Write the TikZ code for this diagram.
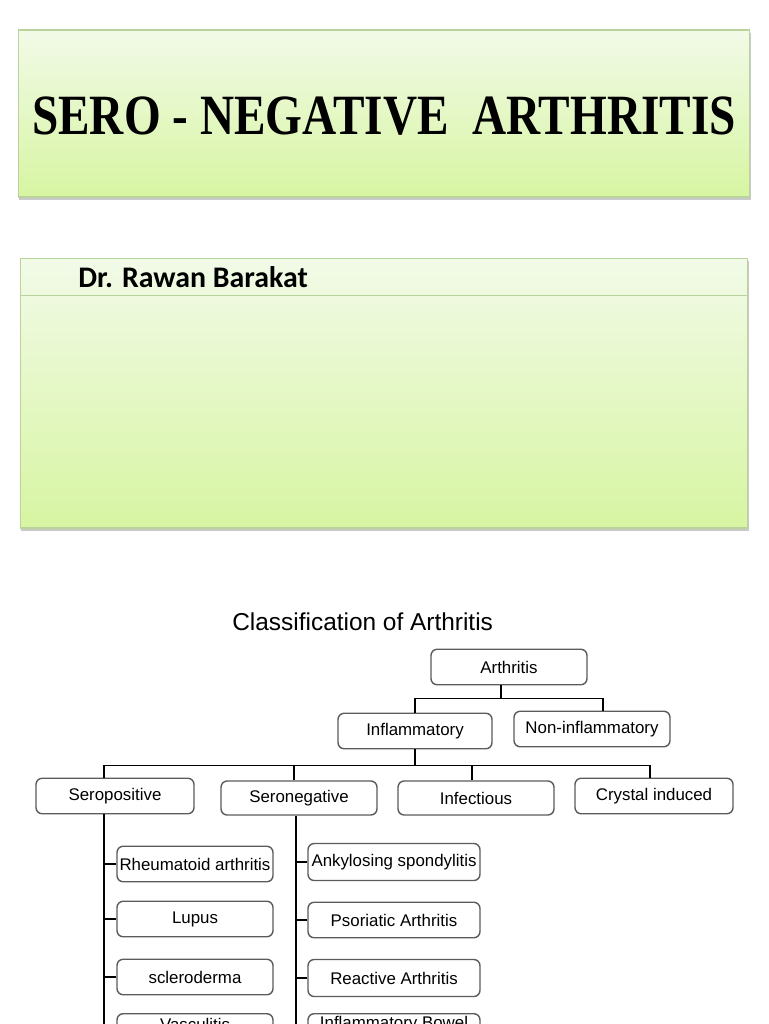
\documentclass[tikz,border=0pt]{standalone}
\usepackage{fontspec}
\setmainfont{Liberation Sans}
\newfontfamily\titlefont[FakeStretch=0.83]{Liberation Serif}
\newfontfamily\namefont{Carlito}
\usetikzlibrary{calc,shadows}

\definecolor{slidetop}{HTML}{F2FAE8}
\definecolor{slidebot}{HTML}{D7F5A2}
\definecolor{slideline}{HTML}{B9D39C}
\definecolor{boxline}{HTML}{5C5C5C}

\begin{document}
\begin{tikzpicture}[x=0.02cm,y=-0.02cm,
  slide/.style={draw=slideline,line width=0.6pt,top color=slidetop,bottom color=slidebot,
    drop shadow={shadow xshift=0.6pt,shadow yshift=-1.6pt,opacity=0.35,fill=black!60}},
  cbox/.style={draw=boxline,line width=0.8pt,rounded corners=3.5pt,fill=white,
    minimum width=3.12cm,minimum height=0.71cm,inner sep=1pt,
    font=\fontsize{9.6}{11}\selectfont},
  cutbox/.style={cbox,anchor=north,minimum height=0pt,inner ysep=2.6pt,text depth=14pt},
  link/.style={line width=0.75pt}]
\useasboundingbox (0,0) rectangle (768,1024);
\clip (0,0) rectangle (768,1024);
\fill[white] (0,0) rectangle (768,1024);

% title slide
\node[slide,minimum width=14.64cm,minimum height=3.34cm] (head) at (384,113.5) {};
\node[font=\titlefont\bfseries\fontsize{32.4}{36}\selectfont] (title) at (384,116)
  {SERO - NEGATIVE\ \ ARTHRITIS};

% author slide
\node[slide,minimum width=14.56cm,minimum height=5.4cm] (body) at (384,393) {};
\draw[slideline,line width=0.6pt] (body.north west) ++(0,38) coordinate (bar) -- (bar -| body.east);
\node[anchor=base west,inner sep=0pt,font=\namefont\bfseries\fontsize{17}{20}\selectfont] (author) at (78,287)
  {Dr. Rawan Barakat};

% classification chart
\node[anchor=base west,inner sep=0pt,font=\fontsize{13.9}{16}\selectfont] (chart) at (232,630)
  {Classification of Arthritis};

\node[cbox] (arth) at (509,667) {Arthritis};
\node[cbox,minimum width=3.08cm] (infl) at (415,731) {Inflammatory};
\node[cbox] (noninf) at (592,729) {Non-inflammatory};

\node[cbox,minimum width=3.16cm] (seropos) at (115,796) {Seropositive};
\node[cbox,minimum height=0.68cm] (seroneg) at (299,798) {Seronegative};
\node[cbox,minimum height=0.68cm] (infec) at (476,798) {Infectious};
\node[cbox,minimum width=3.16cm] (crystal) at (654,796) {Crystal induced};

\node[cbox] (rheum) at (195,864) {Rheumatoid arthritis};
\node[cbox] (lupus) at (195,919) {Lupus};
\node[cbox] (sclero) at (195,977) {scleroderma};
\node[cutbox] (vasc) at (195,1013) {Vasculitis};

\node[cbox,minimum width=3.44cm,minimum height=0.74cm] (ankyl) at (394,862) {Ankylosing spondylitis};
\node[cbox,minimum width=3.44cm] (psor) at (394,920) {Psoriatic Arthritis};
\node[cbox,minimum width=3.44cm,minimum height=0.74cm] (react) at (394,978) {Reactive Arthritis};
\node[cutbox,minimum width=3.44cm,inner ysep=1.6pt] (ibd) at (394,1013) {Inflammatory Bowel};

\coordinate (lt) at (104,1060);
\coordinate (rt) at (296,1060);

\draw[link] ([xshift=-0.16cm]arth.south) -- ++(0,13) coordinate (top);
\draw[link] (infl.north) |- (top) -| ([xshift=0.22cm]noninf.north);
\draw[link] (infl.south) -- ++(0,16) coordinate (bus);
\draw[link] (lt |- seropos.north) |- (bus) -| ([xshift=-0.08cm]crystal.north);
\draw[link] ([xshift=-0.1cm]seroneg.north) -- ([xshift=-0.1cm]seroneg.north |- bus);
\draw[link] ([xshift=-0.08cm]infec.north) -- ([xshift=-0.08cm]infec.north |- bus);

\draw[link] (lt |- seropos.south) -- (lt);
\draw[link] (rt |- seroneg.south) -- (rt);
\foreach \n in {rheum,lupus,sclero,vasc}
  \draw[link] (\n.west) -- (\n.west -| lt);
\foreach \n in {ankyl,psor,react,ibd}
  \draw[link] (\n.west) -- (\n.west -| rt);
\end{tikzpicture}
\end{document}
